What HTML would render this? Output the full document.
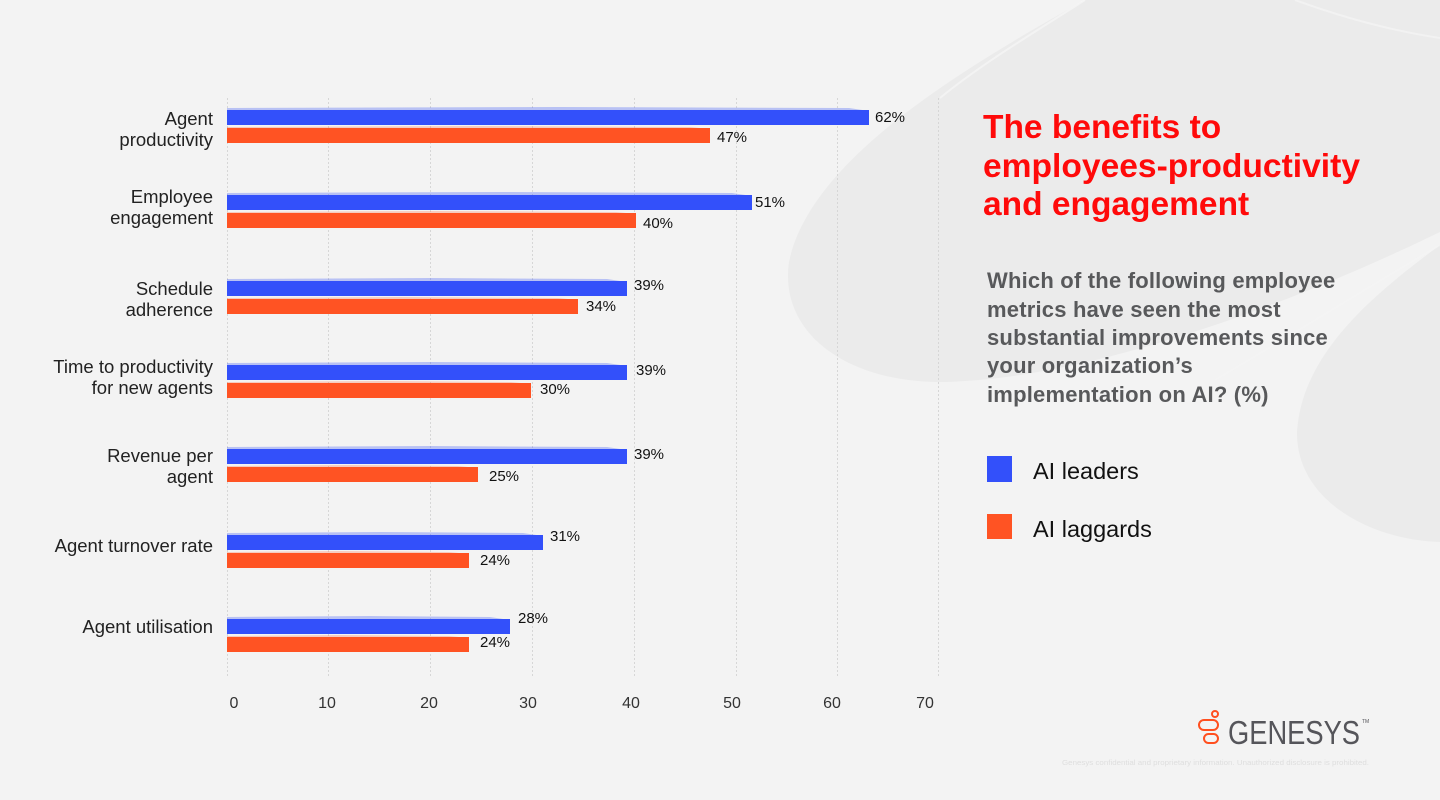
<!DOCTYPE html>
<html>
<head>
<meta charset="utf-8">
<style>
  html, body { margin: 0; padding: 0; }
  body { width: 1440px; height: 800px; overflow: hidden; background: #f3f3f3; }
  svg { display: block; }
  text { font-family: "Liberation Sans", Arial, sans-serif; }
</style>
</head>
<body>
<svg width="1440" height="800" viewBox="0 0 1440 800" xmlns="http://www.w3.org/2000/svg">
  <!-- background -->
  <rect x="0" y="0" width="1440" height="800" fill="#f3f3f3"/>
  <!-- big swoosh blob -->
  <path d="M 1085 0 C 960 70, 810 160, 789 262 C 778 340, 860 390, 965 381 C 1110 372, 1300 300, 1440 232 L 1440 0 Z" fill="#ebebeb"/>
  <path d="M 1440 245 C 1380 290, 1302 350, 1297 432 C 1296 500, 1370 540, 1440 542 Z" fill="#ebebeb"/>
  <!-- faint light streaks -->
  <path d="M 1085 0 C 1030 35, 980 65, 940 98" stroke="#f6f6f6" stroke-width="2" fill="none" opacity="0.7"/>
  <path d="M 1295 0 C 1350 20, 1400 32, 1440 38" stroke="#f6f6f6" stroke-width="2" fill="none" opacity="0.6"/>
  <path d="M 1215 380 C 1300 330, 1380 280, 1440 245" stroke="#f6f6f6" stroke-width="2" fill="none" opacity="0.5"/>

  <!-- gridlines -->
  <g stroke="#d6d6d6" stroke-width="1" stroke-dasharray="2,2">
    <line x1="227.5" y1="98" x2="227.5" y2="678"/>
    <line x1="328.5" y1="98" x2="328.5" y2="678"/>
    <line x1="430.5" y1="98" x2="430.5" y2="678"/>
    <line x1="532.5" y1="98" x2="532.5" y2="678"/>
    <line x1="634.5" y1="98" x2="634.5" y2="678"/>
    <line x1="736.5" y1="98" x2="736.5" y2="678"/>
    <line x1="837.5" y1="98" x2="837.5" y2="678"/>
    <line x1="938.5" y1="98" x2="938.5" y2="678"/>
  </g>

  <!-- bars -->
  <g>
    <!-- Agent productivity -->
    <polygon points="227,111 227,108 560,107 849,108 869,111" fill="#3350fa" opacity="0.3"/>
    <rect x="227" y="110" width="642" height="15" fill="#3350fa"/>
    <polygon points="227,129 227,127 480,126 690,127 710,129" fill="#ff5323" opacity="0.25"/>
    <rect x="227" y="128" width="483" height="15" fill="#ff5323"/>
    <!-- Employee engagement -->
    <polygon points="227,196 227,193 500,192 732,193 752,196" fill="#3350fa" opacity="0.3"/>
    <rect x="227" y="195" width="525" height="15" fill="#3350fa"/>
    <polygon points="227,214 227,212 430,211 616,212 636,214" fill="#ff5323" opacity="0.25"/>
    <rect x="227" y="213" width="409" height="15" fill="#ff5323"/>
    <!-- Schedule adherence -->
    <polygon points="227,282 227,279 430,278 607,279 627,282" fill="#3350fa" opacity="0.3"/>
    <rect x="227" y="281" width="400" height="15" fill="#3350fa"/>
    <polygon points="227,300 227,298 400,297 558,298 578,300" fill="#ff5323" opacity="0.25"/>
    <rect x="227" y="299" width="351" height="15" fill="#ff5323"/>
    <!-- Time to productivity -->
    <polygon points="227,366 227,363 430,362 607,363 627,366" fill="#3350fa" opacity="0.3"/>
    <rect x="227" y="365" width="400" height="15" fill="#3350fa"/>
    <polygon points="227,384 227,382 380,381 511,382 531,384" fill="#ff5323" opacity="0.25"/>
    <rect x="227" y="383" width="304" height="15" fill="#ff5323"/>
    <!-- Revenue per agent -->
    <polygon points="227,450 227,447 430,446 607,447 627,450" fill="#3350fa" opacity="0.3"/>
    <rect x="227" y="449" width="400" height="15" fill="#3350fa"/>
    <polygon points="227,468 227,466 350,465 458,466 478,468" fill="#ff5323" opacity="0.25"/>
    <rect x="227" y="467" width="251" height="15" fill="#ff5323"/>
    <!-- Agent turnover rate -->
    <polygon points="227,536 227,533 380,532 523,533 543,536" fill="#3350fa" opacity="0.3"/>
    <rect x="227" y="535" width="316" height="15" fill="#3350fa"/>
    <polygon points="227,554 227,552 340,551 449,552 469,554" fill="#ff5323" opacity="0.25"/>
    <rect x="227" y="553" width="242" height="15" fill="#ff5323"/>
    <!-- Agent utilisation -->
    <polygon points="227,620 227,617 370,616 490,617 510,620" fill="#3350fa" opacity="0.3"/>
    <rect x="227" y="619" width="283" height="15" fill="#3350fa"/>
    <polygon points="227,638 227,636 340,635 449,636 469,638" fill="#ff5323" opacity="0.25"/>
    <rect x="227" y="637" width="242" height="15" fill="#ff5323"/>
  </g>

  <!-- value labels -->
  <g font-size="15" fill="#111">
    <text x="875" y="122">62%</text>
    <text x="717" y="142">47%</text>
    <text x="755" y="207">51%</text>
    <text x="643" y="228">40%</text>
    <text x="634" y="290">39%</text>
    <text x="586" y="311">34%</text>
    <text x="636" y="375">39%</text>
    <text x="540" y="394">30%</text>
    <text x="634" y="459">39%</text>
    <text x="489" y="481">25%</text>
    <text x="550" y="541">31%</text>
    <text x="480" y="565">24%</text>
    <text x="518" y="623">28%</text>
    <text x="480" y="647">24%</text>
  </g>

  <!-- category labels -->
  <g font-size="18.5" fill="#222" text-anchor="end">
    <text x="213" y="125">Agent</text>
    <text x="213" y="146">productivity</text>
    <text x="213" y="203">Employee</text>
    <text x="213" y="224">engagement</text>
    <text x="213" y="295">Schedule</text>
    <text x="213" y="316">adherence</text>
    <text x="213" y="373">Time to productivity</text>
    <text x="213" y="394">for new agents</text>
    <text x="213" y="462">Revenue per</text>
    <text x="213" y="483">agent</text>
    <text x="213" y="552">Agent turnover rate</text>
    <text x="213" y="633">Agent utilisation</text>
  </g>

  <!-- x tick labels -->
  <g font-size="16" fill="#333" text-anchor="middle">
    <text x="234" y="708">0</text>
    <text x="327" y="708">10</text>
    <text x="429" y="708">20</text>
    <text x="528" y="708">30</text>
    <text x="631" y="708">40</text>
    <text x="732" y="708">50</text>
    <text x="832" y="708">60</text>
    <text x="925" y="708">70</text>
  </g>

  <!-- title -->
  <g font-size="33.5" font-weight="bold" fill="#ff0a0a">
    <text x="983" y="138">The benefits to</text>
    <text x="983" y="177" textLength="377" lengthAdjust="spacingAndGlyphs">employees-productivity</text>
    <text x="983" y="215">and engagement</text>
  </g>

  <!-- subtitle -->
  <g font-size="22" font-weight="bold" fill="#58595b" letter-spacing="0.2">
    <text x="987" y="288">Which of the following employee</text>
    <text x="987" y="317">metrics have seen the most</text>
    <text x="987" y="345">substantial improvements since</text>
    <text x="987" y="373">your organization’s</text>
    <text x="987" y="402">implementation on AI? (%)</text>
  </g>

  <!-- legend -->
  <rect x="987" y="456" width="25" height="26" fill="#3350fa"/>
  <text x="1033" y="479" font-size="23.5" fill="#111">AI leaders</text>
  <rect x="987" y="514" width="25" height="25" fill="#ff5323"/>
  <text x="1033" y="537" font-size="23.5" fill="#111">AI laggards</text>

  <!-- logo -->
  <g fill="none" stroke="#ff4f1f" stroke-width="2">
    <circle cx="1215" cy="714" r="3"/>
    <rect x="1199" y="720" width="19" height="10" rx="5"/>
    <rect x="1204" y="734" width="14" height="9" rx="4.5"/>
  </g>
  <text x="1228" y="744" font-size="33" fill="#55555a" textLength="132" lengthAdjust="spacingAndGlyphs">GENESYS</text>
  <text x="1362" y="723" font-size="5" fill="#55555a">TM</text>

  <!-- footer -->
  <text x="1062" y="765" font-size="7.5" fill="#dedede" textLength="307" lengthAdjust="spacingAndGlyphs">Genesys confidential and proprietary information. Unauthorized disclosure is prohibited.</text>
</svg>
</body>
</html>
